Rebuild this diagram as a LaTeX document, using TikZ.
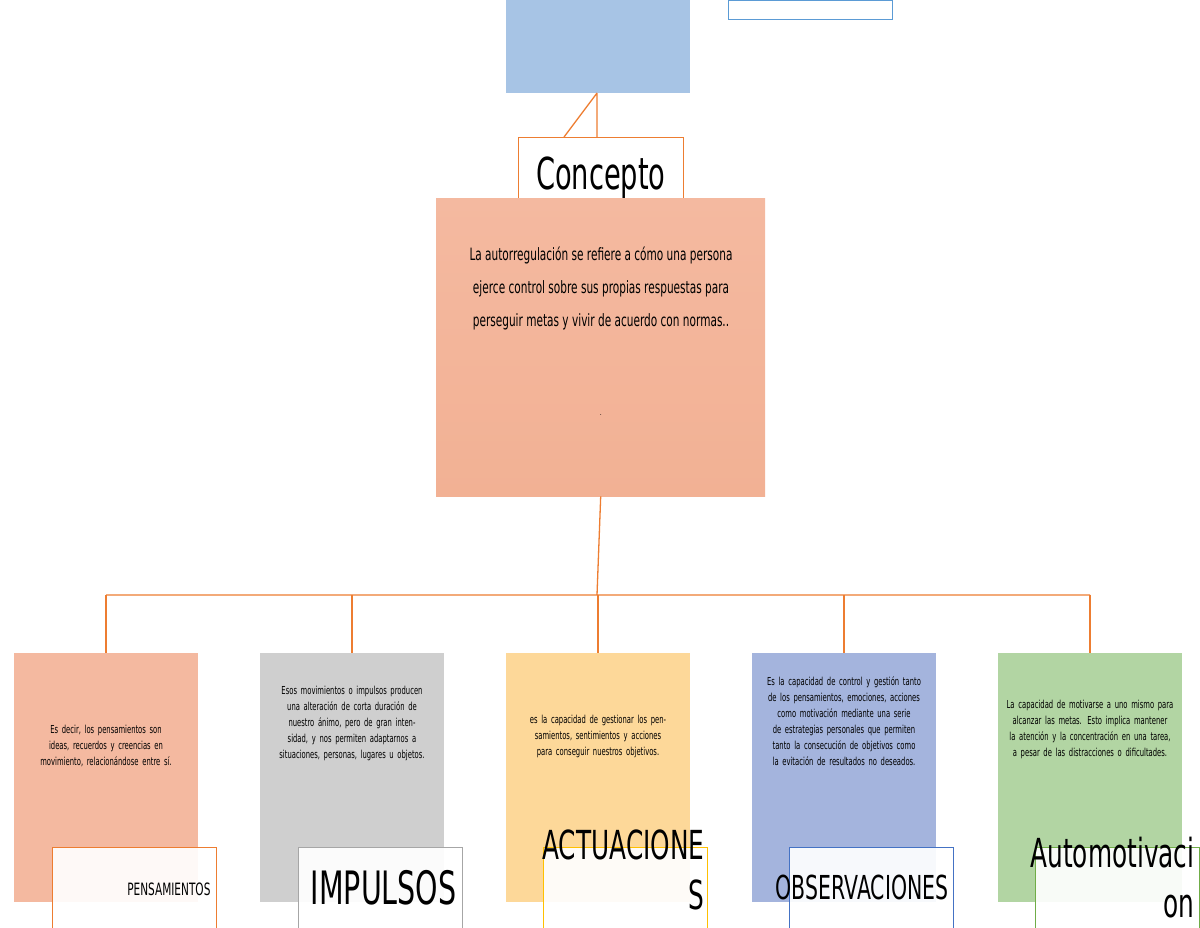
\documentclass[tikz,border=0pt]{standalone}
\usepackage{fontspec}
\setmainfont[FakeStretch=0.62]{DejaVu Sans}
\begin{document}
\begin{tikzpicture}[x=1pt,y=-1pt,
  ln/.style={draw=orange!80!red,line width=1.3pt},
  desc/.style={align=center,font=\fontsize{11}{16}\selectfont,text width=175pt,anchor=north},
  lab/.style={draw,line width=0.8pt,fill=white,fill opacity=0.92,text opacity=1,anchor=north west,minimum width=164pt,minimum height=90pt,inner sep=0pt}]
\useasboundingbox (0,0) rectangle (1200,927);
\definecolor{cor}{HTML}{ED7D31}
\definecolor{pk}{HTML}{F4B9A0}
\definecolor{gr}{HTML}{CFCFCF}
\definecolor{yl}{HTML}{FDD899}
\definecolor{bl}{HTML}{A4B4DD}
\definecolor{gn}{HTML}{B2D5A3}
\fill[fill={rgb,255:red,167;green,196;blue,229}] (506,0) rectangle (690,93);
\coordinate (top) at (597,93);
\node[draw={rgb,255:red,91;green,155;blue,213},line width=0.8pt,fill=white,anchor=north west,minimum width=164pt,minimum height=19pt,inner sep=0pt] (sm) at (728,0) {};
\node[draw=cor,line width=0.8pt,fill=white,anchor=north west,minimum width=165pt,minimum height=81pt,inner sep=0pt,font=\fontsize{44}{44}\selectfont] (con) at (518,137) {Concepto};
\draw[draw=cor,line width=1.3pt] (top) -- (597,137) (top) -- (564,137);
\node[fill=pk,top color=pk,bottom color={rgb,255:red,242;green,177;blue,148},anchor=north west,minimum width=329pt,minimum height=298pt,inner sep=0pt] (big) at (436,198) {};
\node[align=center,font=\fontsize{17}{33}\selectfont,anchor=north] (bt) at (601,243) {La autorregulación se refiere a cómo una persona\\ejerce control sobre sus propias respuestas para\\perseguir metas y vivir de acuerdo con normas..};
\node[font=\fontsize{8}{8}\selectfont] (dot) at (601,415) {.};
\coordinate (j) at (597,595);
\draw[ln,draw=cor] (big.south) -- (j) (106,595) -- (1090,595);
\foreach \x/\c/\n in {14/pk/a,260/gr/b,506/yl/c,752/bl/d,998/gn/e}{
  \fill[\c] (\x,653) rectangle ++(184,249);
  \draw[ln,draw=cor] (\x+92,595) -- (\x+92,653);
}
\node[desc] (ta) at (106,722) {Es decir, los pensamientos son ideas, recuerdos y creencias en movimiento, relacionándose entre sí.};
\node[desc] (tb) at (352,683) {Esos movimientos o impulsos producen una alteración de corta duración de nuestro ánimo, pero de gran intensidad, y nos permiten adaptarnos a situaciones, personas, lugares u objetos.};
\node[desc] (tc) at (598,712) {es la capacidad de gestionar los pensamientos, sentimientos y acciones para conseguir nuestros objetivos.};
\node[desc] (td) at (844,673) {Es la capacidad de control y gestión tanto de los pensamientos, emociones, acciones como motivación mediante una serie de estrategias personales que permiten tanto la consecución de objetivos como la evitación de resultados no deseados.};
\node[desc] (te) at (1090,697) {La capacidad de motivarse a uno mismo para alcanzar las metas. Esto implica mantener la atención y la concentración en una tarea, a pesar de las distracciones o dificultades.};
\node[lab,draw=cor] (la) at (52,847) {};
\node[font=\fontsize{17}{17}\selectfont,anchor=east] at (214,889) {PENSAMIENTOS};
\node[lab,draw=gr!80!black] (lb) at (298,847) {};
\node[font=\fontsize{46}{46}\selectfont,anchor=east] at (460,888) {IMPULSOS};
\node[lab,draw={rgb,255:red,255;green,192;blue,0}] (lc) at (543,847) {};
\node[font=\fontsize{40}{50}\selectfont,align=right,anchor=north east] at (708,826) {ACTUACIONE\\S};
\node[lab,draw={rgb,255:red,68;green,114;blue,196}] (ld) at (789,847) {};
\node[font=\fontsize{33}{33}\selectfont,anchor=east] at (952,887) {OBSERVACIONES};
\node[lab,draw={rgb,255:red,112;green,173;blue,71}] (le) at (1035,847) {};
\node[font=\fontsize{40}{50}\selectfont,align=right,anchor=north east] at (1198,834) {Automotivaci\\on};
\end{tikzpicture}
\end{document}
